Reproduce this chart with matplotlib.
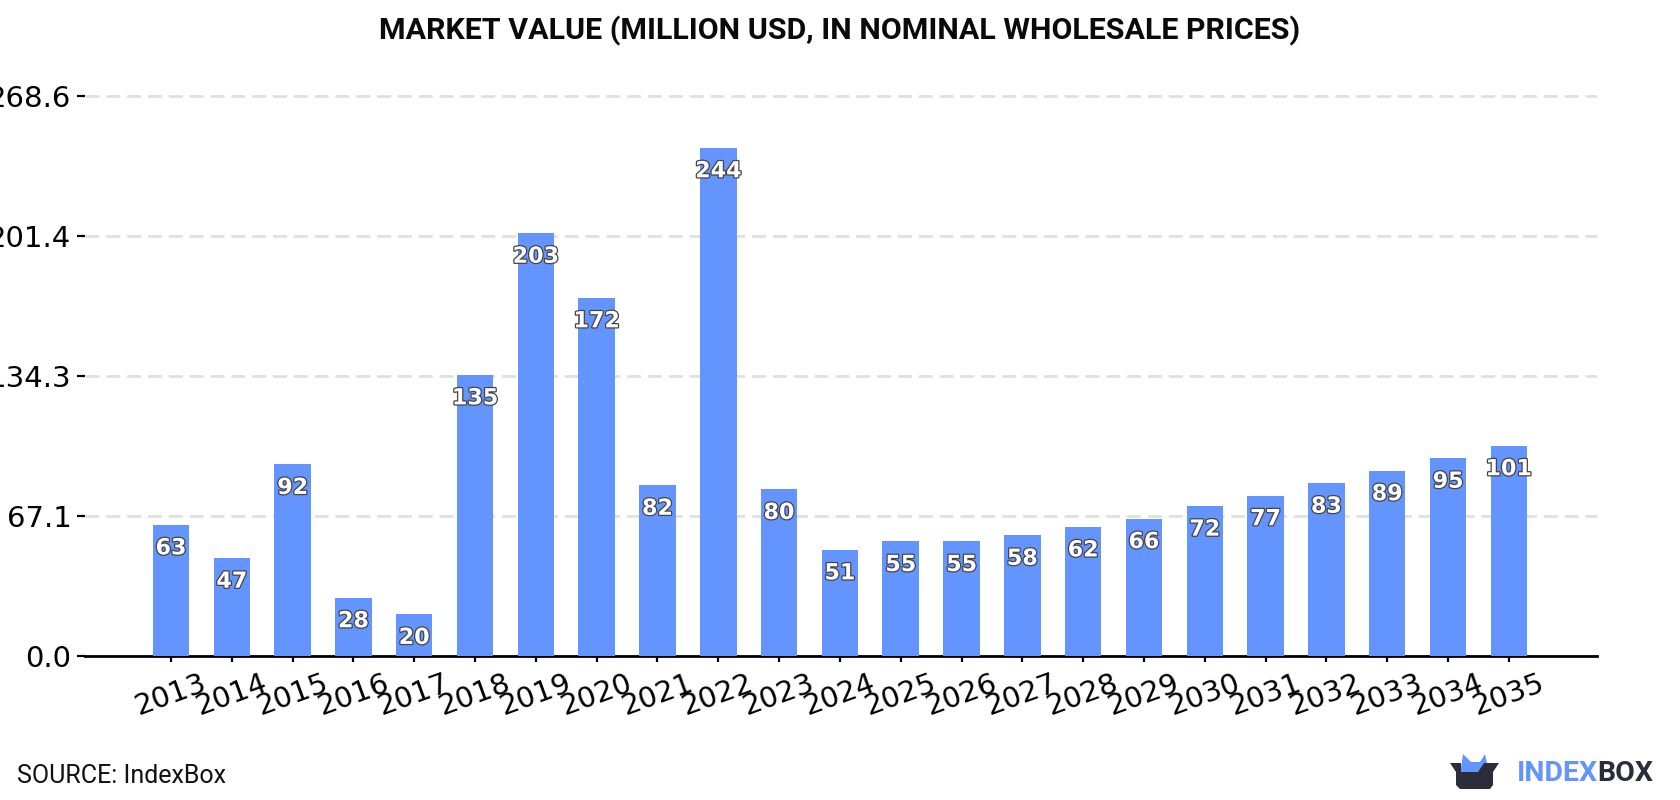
import matplotlib
matplotlib.use('Agg')
import matplotlib.pyplot as plt
import matplotlib.patheffects as pe
from matplotlib.patches import Polygon

years = [2013, 2014, 2015, 2016, 2017, 2018, 2019, 2020, 2021, 2022, 2023, 2024,
         2025, 2026, 2027, 2028, 2029, 2030, 2031, 2032, 2033, 2034, 2035]
values = [63, 47, 92, 28, 20, 135, 203, 172, 82, 244, 80, 51,
          55, 55, 58, 62, 66, 72, 77, 83, 89, 95, 101]
y_ticks = [0.0, 67.1, 134.3, 201.4, 268.6]

BLUE = '#6495ff'
DARK = '#2b2d3a'
W, H = 1680, 800

fig = plt.figure(figsize=(W / 100, H / 100), dpi=100)
ax = fig.add_axes([85 / W, 1 - 656 / H, (1597 - 85) / W, (656 - 70) / H])

positions = list(range(len(years)))
ax.bar(positions, values, width=0.6, color=BLUE, zorder=3)

# value labels sit inside the top of each bar
for x, v in zip(positions, values):
    ax.annotate(str(v), (x, v), xytext=(0, -17), textcoords='offset points',
                ha='center', va='center', fontsize=16, fontweight='bold',
                color='white', zorder=4,
                path_effects=[pe.withStroke(linewidth=1.8, foreground='#444444')])

ax.set_xlim(-1.414, 23.45)
ax.set_ylim(0, 281.3)
ax.set_xticks(positions)
ax.set_xticklabels(years, rotation=20, ha='center', fontsize=21)
ax.set_yticks(y_ticks)
ax.set_yticklabels(['%.1f' % t for t in y_ticks], fontsize=21)
ax.tick_params(axis='y', length=5.8, width=1.6, pad=4)
ax.tick_params(axis='x', length=4.5, width=1.6, pad=5)

ax.grid(axis='y', color='#e0e0e0', linestyle=(0, (5, 2.5)), linewidth=2, zorder=1)
for side in ['top', 'right', 'left']:
    ax.spines[side].set_visible(False)
ax.spines['bottom'].set_linewidth(2)
ax.spines['bottom'].set_bounds(-1.414, 23.45)

fig.text(0.5, 1 - 31 / H, 'MARKET VALUE (MILLION USD, IN NOMINAL WHOLESALE PRICES)',
         ha='center', va='center', family='Roboto', fontweight='bold', fontsize=21.9, color='#0a0a0a')
fig.text(17 / W, 1 - 776 / H, 'SOURCE: IndexBox', ha='left', va='center',
         family='Roboto', fontsize=18, color='#111111')

# logo: box with blue shape poking out, then the wordmark
def px(points):
    return [(x / W, 1 - y / H) for x, y in points]

fig.add_artist(Polygon(px([(1461, 768), (1463, 754), (1471, 762), (1480, 762), (1485, 754),
                           (1487, 763), (1479, 774), (1461, 774)]),
                       transform=fig.transFigure, fc=BLUE, ec='none'))
fig.add_artist(Polygon(px([(1450, 763), (1461, 763), (1461, 772), (1478, 772), (1484, 763), (1499, 763),
                           (1493, 772), (1493, 785), (1490, 789), (1460, 789), (1456, 785), (1456, 772)]),
                       transform=fig.transFigure, fc=DARK, ec='none'))
fig.text(1517 / W, 1 - 773.5 / H, 'INDEX', ha='left', va='center', family='Roboto',
         fontweight='bold', fontsize=20.5, color=BLUE)
fig.text(1597 / W, 1 - 773.5 / H, 'BOX', ha='left', va='center', family='Roboto',
         fontweight='bold', fontsize=20.5, color=DARK)

fig.savefig('out.png', dpi=100)
